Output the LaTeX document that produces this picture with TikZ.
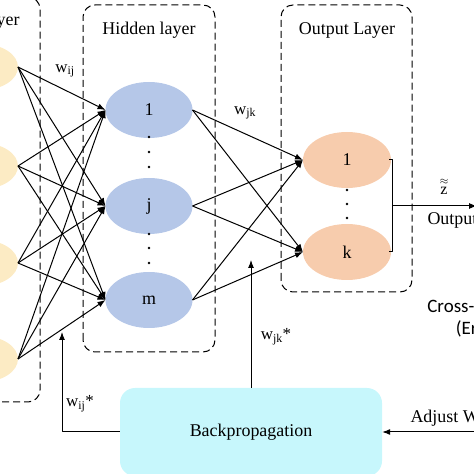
\documentclass[tikz,border=0pt]{standalone}
\usepackage{fontspec}
\usepackage{amsmath}
\setmainfont{Liberation Serif}
\newfontfamily\crossfont{Carlito}
\usetikzlibrary{arrows.meta}
\usetikzlibrary{shapes}

\begin{document}
\begin{tikzpicture}[>={Latex[length=8bp,width=6bp]},line join=bevel,
  layerbox/.style={draw,dash pattern=on 7bp off 4bp,line width=1bp,rounded corners=12bp},
  unit/.style={ellipse,inner sep=0pt,outer sep=0pt,font=\fontsize{18}{20}\selectfont},
  link/.style={->,line width=1bp},
  caption/.style={font=\fontsize{18}{20}\selectfont,anchor=base},
  wlabel/.style={font=\fontsize{17}{19}\selectfont}]
\useasboundingbox (0bp,0bp) rectangle (474bp,474bp);
%%
  \definecolor{inputcol}{rgb}{0.99,0.92,0.77};
  \definecolor{hiddencol}{rgb}{0.71,0.78,0.91};
  \definecolor{outputcol}{rgb}{0.97,0.80,0.68};
  \definecolor{backcol}{rgb}{0.78,0.97,0.99};
%% layer frames
  \draw [layerbox] (-60bp,72bp) rectangle (40bp,477bp);
  \draw [layerbox] (83bp,122bp) rectangle (215bp,469bp);
  \draw [layerbox] (281bp,182bp) rectangle (412bp,469bp);
  \node [caption,anchor=base east] at (23bp,448bp) {Input layer};
  \node [caption] at (149bp,439bp) {Hidden layer};
  \node [caption] at (347bp,439bp) {Output Layer};
%% units
  \node (in1) at (-18bp,407bp) [unit,fill=inputcol,minimum width=72bp,minimum height=46bp] {};
  \node (in2) at (-18bp,308bp) [unit,fill=inputcol,minimum width=72bp,minimum height=46bp] {};
  \node (in3) at (-18bp,211bp) [unit,fill=inputcol,minimum width=72bp,minimum height=46bp] {};
  \node (in4) at (-18bp,115bp) [unit,fill=inputcol,minimum width=72bp,minimum height=46bp] {};
  \node (hid1) at (149bp,364bp) [unit,fill=hiddencol,minimum width=87bp,minimum height=56bp] {1};
  \node (hid2) at (149bp,268bp) [unit,fill=hiddencol,minimum width=87bp,minimum height=56bp] {j};
  \node (hid3) at (149bp,174bp) [unit,fill=hiddencol,minimum width=87bp,minimum height=56bp] {m};
  \node (out1) at (347bp,314bp) [unit,fill=outputcol,minimum width=88bp,minimum height=56bp] {1};
  \node (out2) at (347bp,222bp) [unit,fill=outputcol,minimum width=88bp,minimum height=56bp] {k};
  \node (back) at (251bp,42bp) [rectangle,fill=backcol,rounded corners=15bp,minimum width=262bp,minimum height=88bp,font=\fontsize{18}{20}\selectfont] {Backpropagation};
%% dots
  \foreach \y in {337,322,307,240,226,211}
    \fill (149bp,\y bp) circle (1.3bp);
  \foreach \y in {284,270,256}
    \fill (347bp,\y bp) circle (1.3bp);
%% weights
  \foreach \i in {1,...,4}
    \foreach \h in {1,2,3}
      \draw [link] (in\i.east) -- (hid\h.west);
  \foreach \h in {1,2,3}
    \foreach \o in {1,2}
      \draw [link] (hid\h.east) -- (out\o.west);
  \node [wlabel] at (65bp,403bp) {w\textsubscript{ij}};
  \node [wlabel] at (245bp,361bp) {w\textsubscript{jk}};
%% output
  \coordinate (brk) at (392bp,268bp);
  \coordinate (zout) at (477bp,268bp);
  \draw [line width=1bp] (389bp,314bp) -- (392bp,314bp) -- (392bp,222bp) -- (389bp,222bp);
  \draw [link] (brk) -- (zout);
  \node [font=\fontsize{16}{18}\selectfont] at (444bp,288bp) {$\overset{\approx}{\text{z}}$};
  \node [caption,anchor=base west] at (424bp,249bp) {Output};
  \node [font=\crossfont\fontsize{19}{22}\selectfont,anchor=base] at (481bp,161bp) {Cross-entropy};
  \node [font=\crossfont\fontsize{19}{22}\selectfont,anchor=base] at (481bp,139bp) {(Error)};
%% feedback
  \coordinate (adj) at (477bp,42bp);
  \coordinate (wij) at (62bp,142bp);
  \coordinate (wjk) at (251bp,214bp);
  \draw [link] (adj) -- (back.east);
  \node [caption,anchor=base west] at (407bp,51bp) {Adjust Weights};
  \draw [link] (back.west) -| (wij);
  \node [wlabel] at (80bp,70bp) {w\textsubscript{ij}*};
  \draw [link] (back.north) -- (wjk);
  \node [wlabel] at (276bp,137bp) {w\textsubscript{jk}*};
%
\end{tikzpicture}
\end{document}
